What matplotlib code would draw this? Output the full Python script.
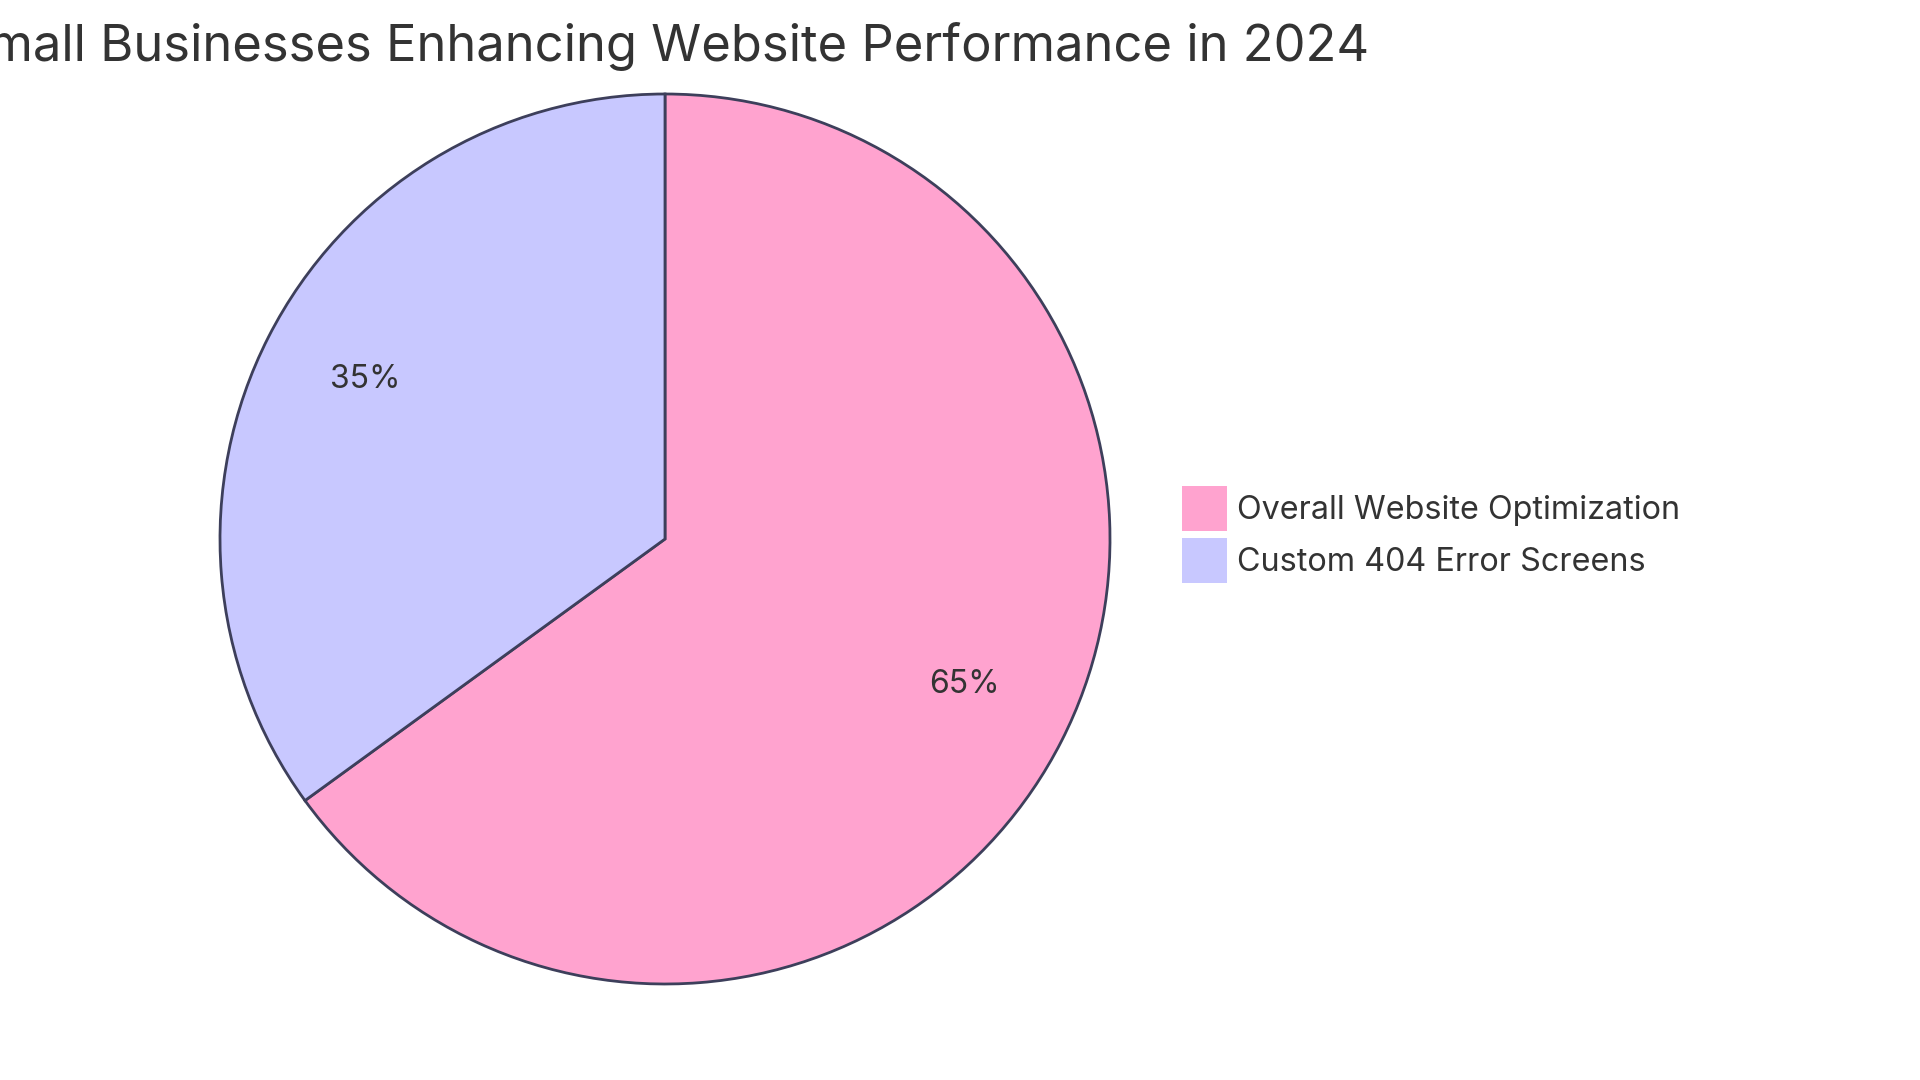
import matplotlib
matplotlib.use("Agg")
import matplotlib.pyplot as plt
from matplotlib.patches import Patch
import matplotlib.transforms as mtransforms

labels = ["Overall Website Optimization", "Custom 404 Error Screens"]
values = [65, 35]
colors = ["#FFA3CF", "#C8C8FF"]
title = "Small Businesses Enhancing Website Performance in 2024"

plt.rcParams['font.family'] = ['Inter', 'DejaVu Sans']
text_col = "#333333"
edge_col = "#3D3F5B"

W, H = 1920, 1080
fig = plt.figure(figsize=(W / 100, H / 100), dpi=100)
fig.patch.set_facecolor("white")

cx, cy, r = 665, 539, 445
ax = fig.add_axes([(cx - r) / W, (H - cy - r) / H, 2 * r / W, 2 * r / H])
wedges, texts, autotexts = ax.pie(
    values, colors=colors, startangle=90, counterclock=False,
    autopct=lambda p: f"{p:.0f}%", pctdistance=0.755,
    wedgeprops=dict(edgecolor=edge_col, linewidth=2),
    textprops=dict(color=text_col, fontsize=23),
)
# nudge percentage labels up a little
shift = mtransforms.ScaledTranslation(0, 7 / 100, fig.dpi_scale_trans)
for t in autotexts:
    t.set_transform(t.get_transform() + shift)
ax.set_xlim(-1.0, 1.0)
ax.set_ylim(-1.0, 1.0)
ax.set_aspect("equal")
ax.axis("off")

fig.text(1369 / W, 1 - 61 / H, title, ha="right", va="baseline",
         fontsize=36.5, color=text_col)

handles = [Patch(facecolor=c, edgecolor="none") for c in colors]
fig.legend(handles, labels, loc="upper left",
           bbox_to_anchor=(1182 / W, 1 - 486 / H), borderaxespad=0,
           borderpad=0, frameon=False, fontsize=23.3,
           handlelength=1.39, handleheight=1.78, handletextpad=0.3,
           labelspacing=0.2, labelcolor=text_col)

fig.savefig("out.png", dpi=100)
